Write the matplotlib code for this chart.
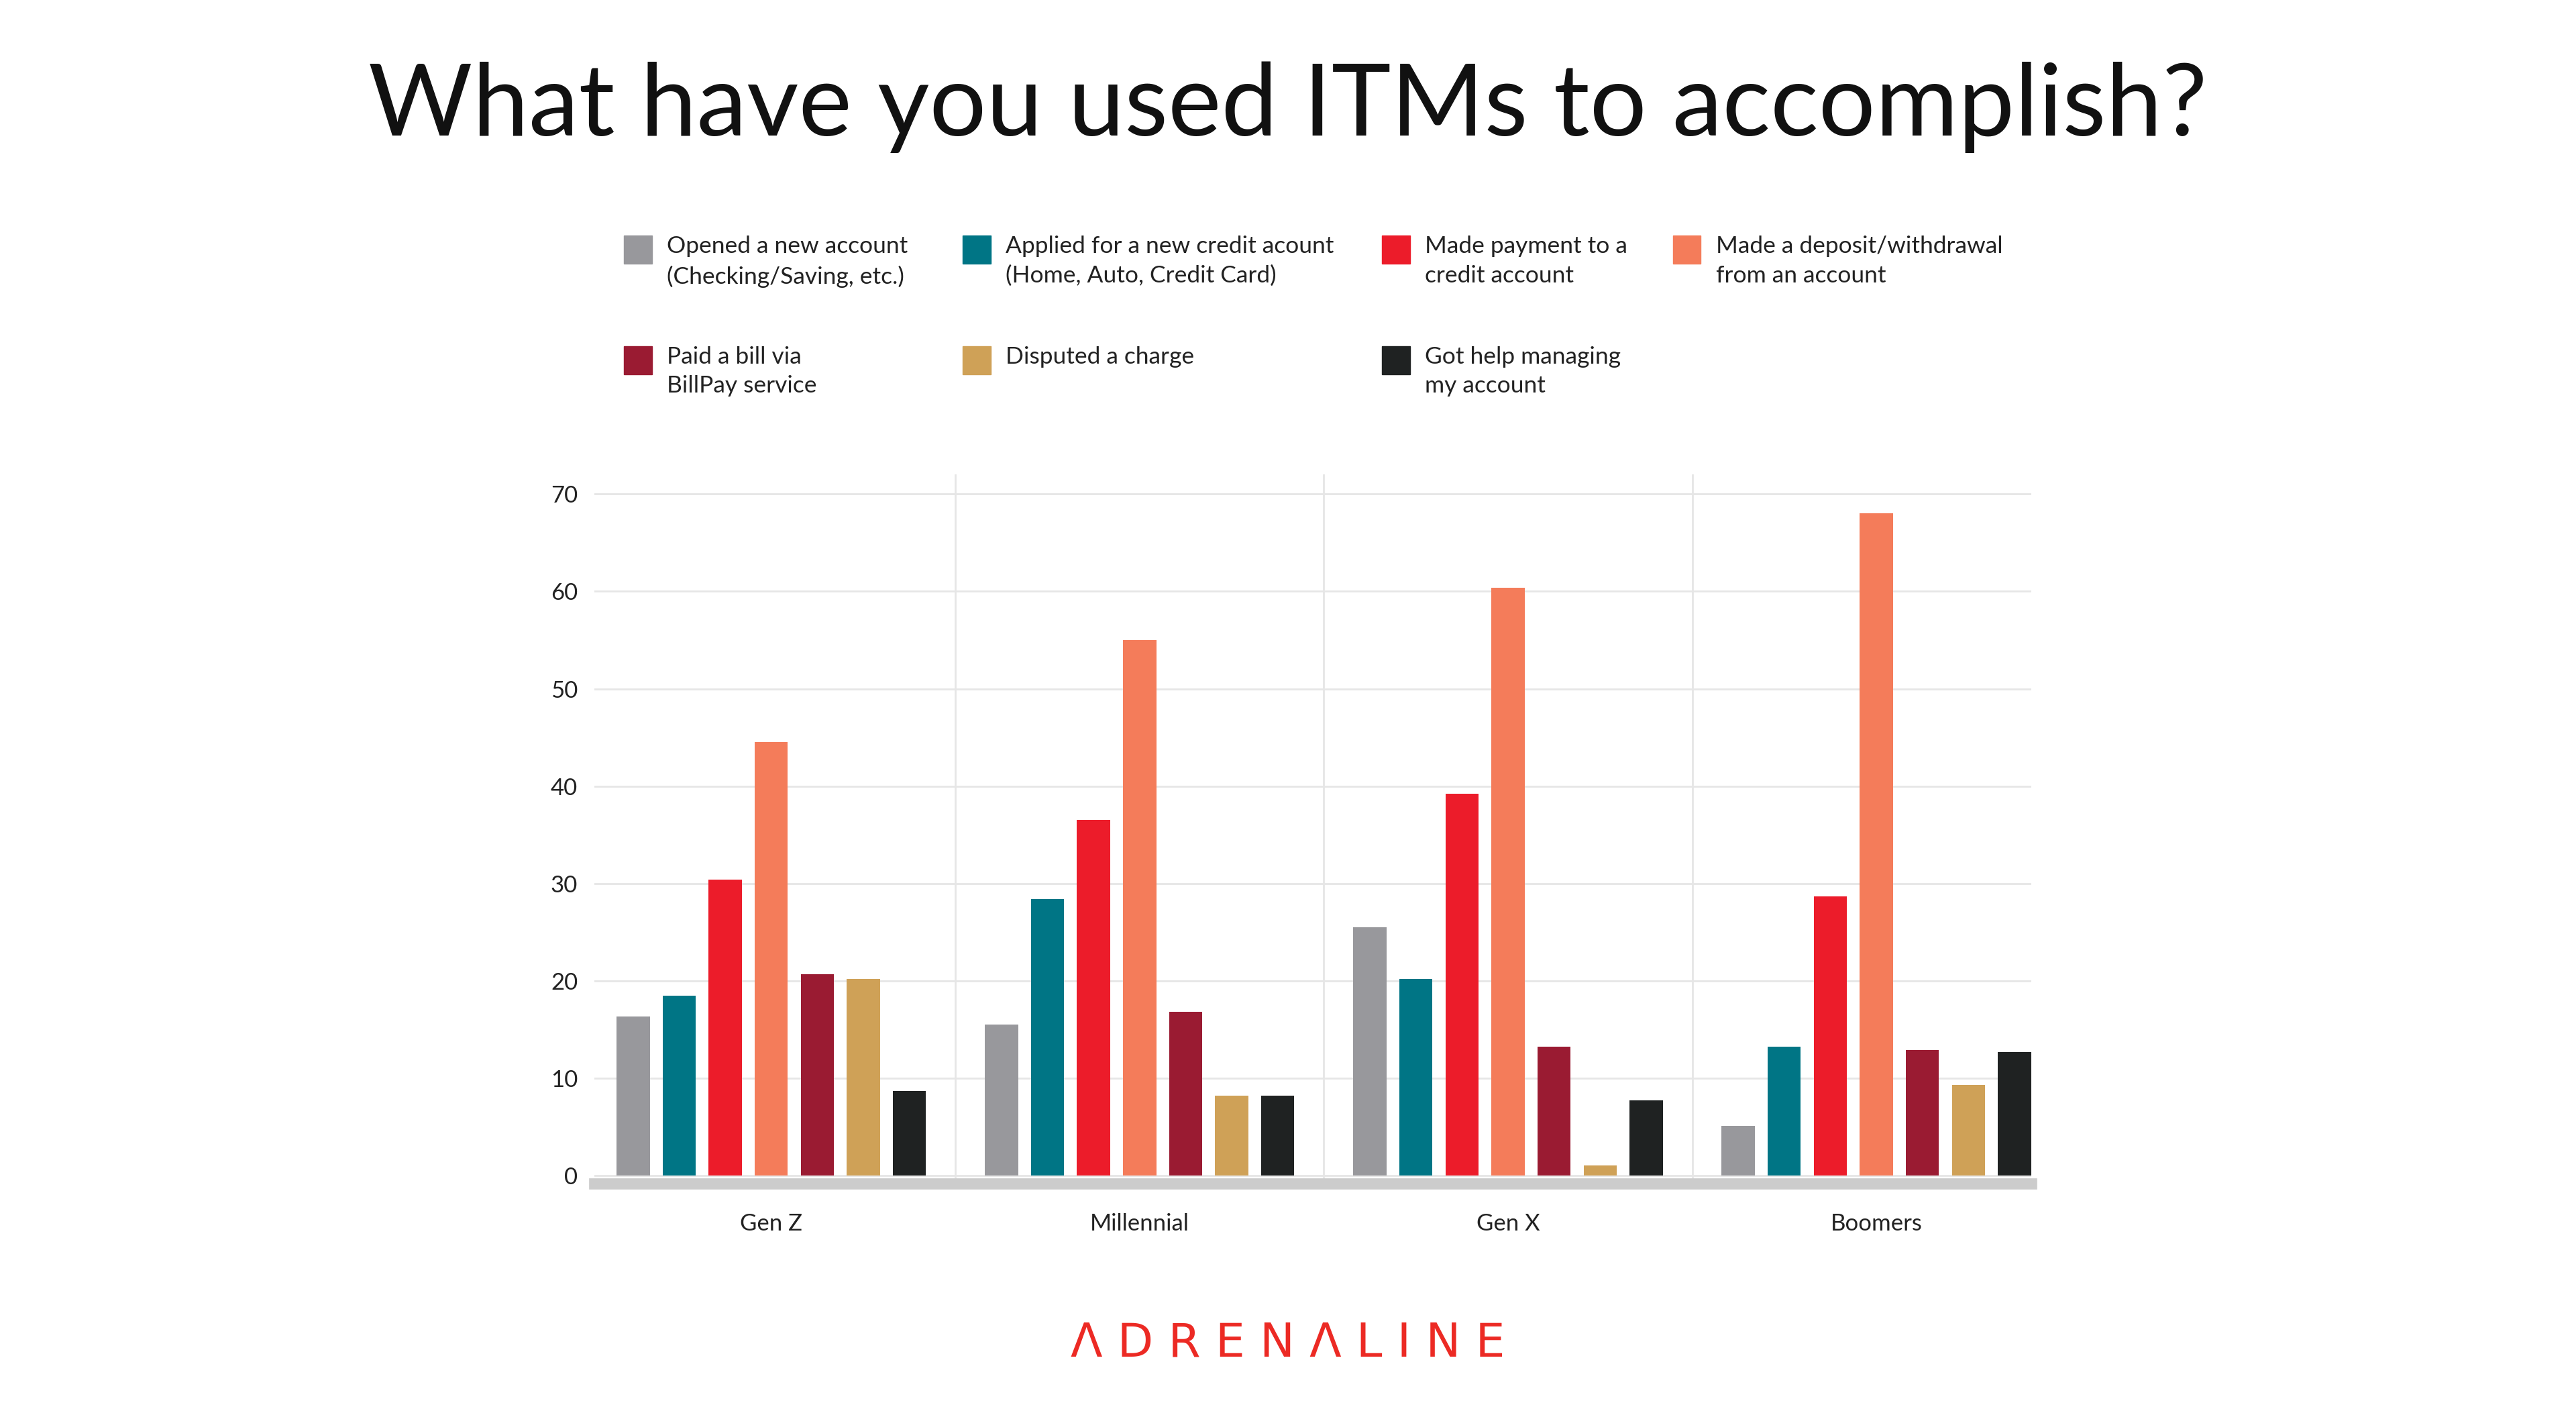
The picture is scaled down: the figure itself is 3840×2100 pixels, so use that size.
import numpy as np
import matplotlib.pyplot as plt
from matplotlib.patches import Rectangle

plt.rcParams["font.family"] = ["Lato", "DejaVu Sans"]

groups = ["Gen Z", "Millennial", "Gen X", "Boomers"]
series = [
    "Opened a new account\n(Checking/Saving, etc.)",
    "Applied for a new credit acount\n(Home, Auto, Credit Card)",
    "Made payment to a\ncredit account",
    "Made a deposit/withdrawal\nfrom an account",
    "Paid a bill via\nBillPay service",
    "Disputed a charge",
    "Got help managing\nmy account",
]
values = [
    [16.3, 15.5, 25.5, 5.1],
    [18.5, 28.4, 20.2, 13.2],
    [30.4, 36.5, 39.2, 28.7],
    [44.5, 55.0, 60.4, 68.0],
    [20.7, 16.8, 13.2, 12.9],
    [20.2, 8.2, 1.0, 9.3],
    [8.7, 8.2, 7.7, 12.7],
]
colors = ["#98989c", "#007585", "#ec1c2a", "#f47c5a", "#9a1b32", "#cfa157", "#1f2222"]

W, H = 1560, 855
fig = plt.figure(figsize=(38.4, 21), dpi=100)
ax = fig.add_axes([360 / W, 1 - 718 / H, 870 / W, (718 - 288) / H])

x = np.arange(len(groups))
step, width = 0.125, 0.09
for i, (vals, c) in enumerate(zip(values, colors)):
    ax.bar(x + (i - 3) * step, vals, width=width, color=c, zorder=3)

ax.set_xlim(-0.48, 3.42)
ax.set_ylim(-0.8, 72)
ax.set_yticks(range(0, 71, 10))
ax.set_xticks(x)
ax.set_xticklabels(groups)
ax.tick_params(length=0, labelsize=25, colors="#222222")
ax.tick_params(axis="x", pad=32)
ax.tick_params(axis="y", pad=18)
ax.grid(axis="y", color="#e6e6e6", linewidth=2, zorder=0)
for s in [0.5, 1.5, 2.5]:
    ax.axvline(s, color="#e6e6e6", linewidth=2, zorder=0)
for sp in ["top", "right", "left"]:
    ax.spines[sp].set_visible(False)
ax.spines["bottom"].set_color("#cccccc")
ax.spines["bottom"].set_linewidth(12)
ax.spines["bottom"].set_zorder(4)

fig.text(0.5, 1 - 65 / H, "What have you used ITMs to accomplish?",
         ha="center", va="center", fontsize=108, fontweight="normal", color="#111111")

# legend
pos = [(378, 152), (583, 152), (837, 152), (1013, 152),
       (378, 219), (583, 219), (837, 219)]
for (px, py), label, c in zip(pos, series, colors):
    fig.patches.append(Rectangle((px / W, 1 - (py + 8) / H), 17 / W, 17 / H,
                                 transform=fig.transFigure, color=c))
    fig.text((px + 26) / W, 1 - (py - 9) / H, label, ha="left", va="top",
             fontsize=25.5, color="#222222", linespacing=1.45)

fig.text(0.5, 1 - 815 / H, "Λ D R E N Λ L I N E", ha="center", va="center",
         fontsize=50, color="#ec2a24", family=["DejaVu Sans"])

fig.savefig("out.png", dpi=100, facecolor="white")
